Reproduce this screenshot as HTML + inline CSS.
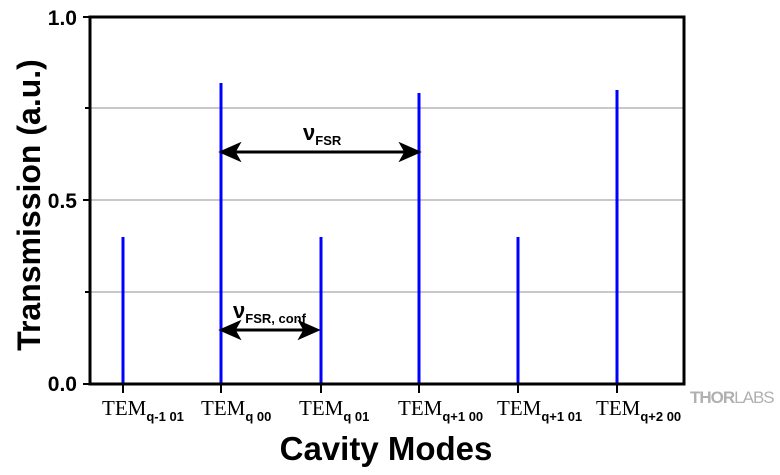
<!DOCTYPE html>
<html><head><style>body{margin:0;background:#fff}</style></head><body>
<svg width="780" height="470" xmlns="http://www.w3.org/2000/svg" font-family="Liberation Sans, sans-serif">
<rect width="780" height="470" fill="#fff"/>
<g stroke="#c8c8c8" stroke-width="2">
<line x1="90" y1="108" x2="684" y2="108"/><line x1="90" y1="200" x2="684" y2="200"/><line x1="90" y1="292" x2="684" y2="292"/>
</g>
<g stroke="#00f" stroke-width="3">
<line x1="112" y1="384" x2="684" y2="384"/>
<line x1="123" y1="384" x2="123" y2="237"/>
<line x1="221" y1="384" x2="221" y2="83"/>
<line x1="321" y1="384" x2="321" y2="237"/>
<line x1="419" y1="384" x2="419" y2="93"/>
<line x1="518" y1="384" x2="518" y2="237"/>
<line x1="617" y1="384" x2="617" y2="90"/>
</g>
<rect x="90" y="17" width="594" height="367" fill="none" stroke="#000" stroke-width="3"/>
<g stroke="#000" stroke-width="2">
<line x1="83" y1="17" x2="90" y2="17"/><line x1="85" y1="108" x2="90" y2="108"/><line x1="83" y1="200" x2="90" y2="200"/><line x1="85" y1="292" x2="90" y2="292"/><line x1="83" y1="384" x2="90" y2="384"/>
<line x1="123" y1="384" x2="123" y2="393"/><line x1="221" y1="384" x2="221" y2="393"/><line x1="321" y1="384" x2="321" y2="393"/><line x1="419" y1="384" x2="419" y2="393"/><line x1="518" y1="384" x2="518" y2="393"/><line x1="617" y1="384" x2="617" y2="393"/>
</g>
<g font-size="21" font-weight="bold" text-anchor="end">
<text x="77" y="25">1.0</text><text x="77" y="208">0.5</text><text x="77" y="391">0.0</text>
</g>
<text transform="translate(40,205) rotate(-90)" text-anchor="middle" font-size="32" font-weight="bold">Transmission (a.u.)</text>
<text x="386" y="460" text-anchor="middle" font-size="33" font-weight="bold">Cavity Modes</text>
<g stroke="#000" stroke-width="3" fill="#000">
<line x1="226" y1="152" x2="414" y2="152"/>
<polygon points="222,152 238,145 234,152 238,159"/><polygon points="418,152 402,145 406,152 402,159"/>
<line x1="226" y1="330" x2="313" y2="330"/>
<polygon points="222,330 238,323 234,330 238,337"/><polygon points="317,330 301,323 305,330 301,337"/>
</g>
<text x="303" y="140" font-size="22" font-weight="bold">ν<tspan font-size="13" dy="5">FSR</tspan></text>
<text x="233" y="318" font-size="22" font-weight="bold">ν<tspan font-size="13" dy="5">FSR, conf</tspan></text>
<g font-size="21" font-family="Liberation Serif, serif">
<text x="102" y="415">TEM<tspan font-family="Liberation Sans" font-size="13" font-weight="bold" dy="6">q-1 01</tspan></text>
<text x="201" y="415">TEM<tspan font-family="Liberation Sans" font-size="13" font-weight="bold" dy="6">q 00</tspan></text>
<text x="299" y="415">TEM<tspan font-family="Liberation Sans" font-size="13" font-weight="bold" dy="6">q 01</tspan></text>
<text x="398" y="415">TEM<tspan font-family="Liberation Sans" font-size="13" font-weight="bold" dy="6">q+1 00</tspan></text>
<text x="497" y="415">TEM<tspan font-family="Liberation Sans" font-size="13" font-weight="bold" dy="6">q+1 01</tspan></text>
<text x="596" y="415">TEM<tspan font-family="Liberation Sans" font-size="13" font-weight="bold" dy="6">q+2 00</tspan></text>
</g>
<text x="690" y="403" font-size="17" font-weight="bold" fill="#b0b0b0" letter-spacing="-1">THOR<tspan font-weight="normal">LABS</tspan></text>
</svg>
</body></html>
